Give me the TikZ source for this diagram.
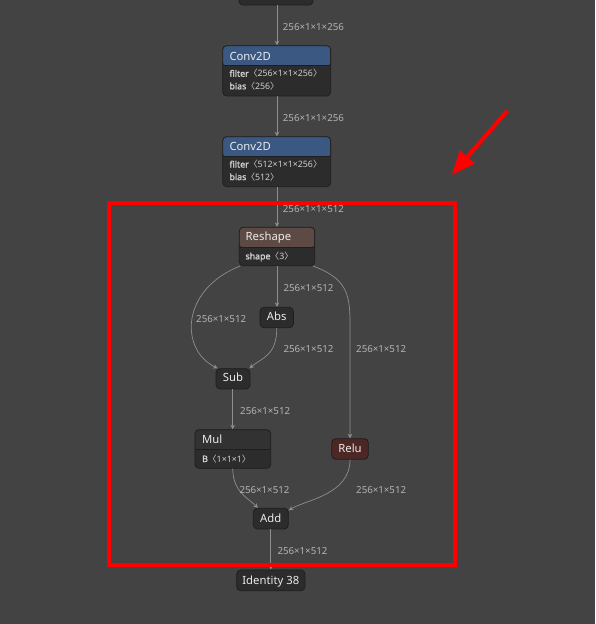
\documentclass[tikz,border=0pt]{standalone}
\usepackage{fontspec}
\usepackage{tikz}
\usetikzlibrary{arrows.meta}
\setmainfont{Noto Sans}[AutoFakeBold=1.6]
\newfontfamily\cjkfont{Noto Sans CJK SC}

\definecolor{bgcol}{HTML}{434343}
\definecolor{bodycol}{HTML}{2C2C2C}
\definecolor{linecol}{HTML}{1E1E1E}
\definecolor{convcol}{HTML}{3A5882}
\definecolor{shapecol}{HTML}{5D4A45}
\definecolor{mulcol}{HTML}{323232}
\definecolor{relucol}{HTML}{4C2723}
\definecolor{edgecol}{HTML}{8E8E8E}
\definecolor{labelcol}{HTML}{B4B4B4}
\definecolor{titlecol}{HTML}{EBEBEB}
\definecolor{attrcol}{HTML}{D2D2D2}
\definecolor{markred}{HTML}{FF0000}

\newcommand{\lang}{{\cjkfont\char"3008}}
\newcommand{\rang}{{\cjkfont\char"3009}}

\tikzset{
  box/.style={draw=linecol, line width=0.8pt, fill=bodycol, rounded corners=4pt, inner sep=0pt},
  hdr/.style={path picture={
      \fill[#1] ([yshift=2pt]path picture bounding box.north west) rectangle ([yshift=-20pt]path picture bounding box.north east);
      \draw[linecol, line width=0.8pt] ([yshift=-20pt]path picture bounding box.north west) -- ([yshift=-20pt]path picture bounding box.north east);}},
  title/.style={text=titlecol, font=\fontsize{11.3}{13}\selectfont, inner sep=0pt},
  attr/.style={text=attrcol, font=\fontsize{8.8}{10}\selectfont, inner sep=0pt, anchor=base west},
  lbl/.style={text=labelcol, font=\fontsize{9.7}{11}\selectfont, inner sep=0pt, anchor=base west},
  edge/.style={draw=edgecol, line width=0.7pt, -{Stealth[length=4.5pt,width=4.5pt]}}
}

\begin{document}
\begin{tikzpicture}[x=1pt,y=-1pt]
\fill[bgcol] (0,0) rectangle (595,624);
\useasboundingbox (0,0) rectangle (595,624);

% boxes
\node[box, minimum width=74pt, minimum height=30pt] (top) at (276,-10) {};
\node[box, hdr=convcol, minimum width=108pt, minimum height=50.3pt] (conv1) at (276.7,70.8) {};
\node[box, hdr=convcol, minimum width=108pt, minimum height=50pt] (conv2) at (276.7,161.7) {};
\node[box, hdr=shapecol, minimum width=75.4pt, minimum height=38.4pt] (reshape) at (277,246.5) {};
\node[box, minimum width=33.3pt, minimum height=20.4pt] (abs) at (276.7,317.5) {};
\node[box, minimum width=34pt, minimum height=20.3pt] (sub) at (233,378.8) {};
\node[box, hdr=mulcol, minimum width=75.7pt, minimum height=38.6pt] (mul) at (232.8,449) {};
\node[box, fill=relucol, minimum width=36.6pt, minimum height=20.6pt] (relu) at (350,449) {};
\node[box, minimum width=35pt, minimum height=20.7pt] (add) at (270.8,518.6) {};
\node[box, minimum width=68.3pt, minimum height=20.7pt] (ident) at (270.8,580.3) {};

% texts
\node[title, anchor=base west] at (229.3,60) {Conv2D};
\node[attr] at (229.3,76.7) {\textbf{filter}\lang256×1×1×256\rang};
\node[attr] at (229.3,89.3) {\textbf{bias}\lang256\rang};
\node[title, anchor=base west] at (229.3,150.8) {Conv2D};
\node[attr] at (229.3,167.5) {\textbf{filter}\lang512×1×1×256\rang};
\node[attr] at (229.3,180.1) {\textbf{bias}\lang512\rang};
\node[title, anchor=base west] at (245.5,240.7) {Reshape};
\node[attr] at (245.3,259.3) {\textbf{shape}\lang3\rang};
\node[title, anchor=base] at (276.7,320.7) {Abs};
\node[title, anchor=base] at (233,381.7) {Sub};
\node[title, anchor=base west] at (202,443.3) {Mul};
\node[attr] at (202,462) {\textbf{B}\lang1×1×1\rang};
\node[title, anchor=base] at (350,452.3) {Relu};
\node[title, anchor=base] at (270.8,522.3) {Add};
\node[title, anchor=base] at (270.8,584) {Identity 38};

% connectors
\draw[edge] (top.south -| 277,0) -- (conv1.north -| 277,0);
\draw[edge] (conv1.south -| 277,0) -- (conv2.north -| 277,0);
\draw[edge] (conv2.south -| 277,0) -- (reshape.north -| 277,0);
\draw[edge] (reshape.south -| 277,0) -- (abs.north -| 277,0);
\draw[edge] ([xshift=1pt]reshape.south west) .. controls (180,290) and (180,350) .. ([xshift=2pt]sub.north west);
\draw[edge] (abs.south) .. controls (277,355) and (262,358) .. ([xshift=-1pt]sub.north east);
\draw[edge] ([xshift=-2pt]reshape.south east) .. controls (345,278) and (350,292) .. (350,322) -- (relu.north);
\draw[edge] (sub.south -| 232.7,0) -- (mul.north -| 232.7,0);
\draw[edge] (mul.south -| 232.7,0) .. controls (233,492) and (248,498) .. ([xshift=5pt]add.north west);
\draw[edge] (relu.south) .. controls (350,495) and (305,500) .. ([yshift=-2.5pt]add.north east);
\draw[edge] (add.south) -- (ident.north);

% edge labels
\node[lbl] at (282.7,30) {256×1×1×256};
\node[lbl] at (282.7,121) {256×1×1×256};
\node[lbl] at (282.7,212.7) {256×1×1×512};
\node[lbl] at (283.3,291) {256×1×512};
\node[lbl] at (196,322) {256×1×512};
\node[lbl] at (283.3,352.7) {256×1×512};
\node[lbl] at (356,352.7) {256×1×512};
\node[lbl] at (240,414) {256×1×512};
\node[lbl] at (239.3,493) {256×1×512};
\node[lbl] at (356,493) {256×1×512};
\node[lbl] at (277.3,554) {256×1×512};

% highlight
\draw[markred, line width=4pt] (109,202.7) rectangle (454.7,564.7);
\coordinate (arrstart) at (507.3,110.7);
\coordinate (arrtip) at (451.7,175);
\draw[markred, line width=4pt, -{Triangle[length=24pt,width=19pt]}] (arrstart) -- (arrtip);
\end{tikzpicture}
\end{document}
